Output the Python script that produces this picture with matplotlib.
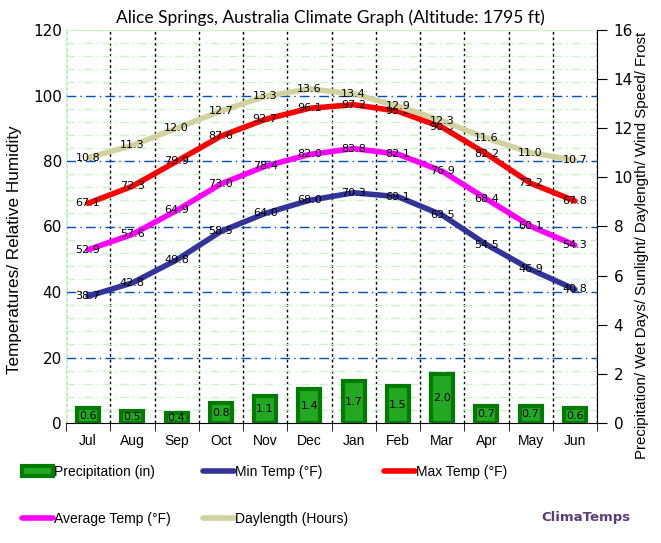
import matplotlib
matplotlib.use('Agg')
import matplotlib.pyplot as plt
import numpy as np

# climate data, Alice Springs
months=['Jul','Aug','Sep','Oct','Nov','Dec','Jan','Feb','Mar','Apr','May','Jun']
precip=[0.6,0.5,0.4,0.8,1.1,1.4,1.7,1.5,2.0,0.7,0.7,0.6]
min_temp=[38.7,42.8,49.8,58.5,64.0,68.0,70.3,69.1,63.5,54.5,46.9,40.8]
max_temp=[67.1,72.3,79.9,87.6,92.7,96.1,97.2,95.2,90.3,82.2,73.2,67.8]
avg_temp=[52.9,57.6,64.9,73.0,78.4,82.0,83.8,82.1,76.9,68.4,60.1,54.3]
daylen=[10.8,11.3,12.0,12.7,13.3,13.6,13.4,12.9,12.3,11.6,11.0,10.7]

left_ticks=[0,20,40,60,80,100,120]
right_ticks=[0,2,4,6,8,10,12,14,16]

FONT='Liberation Sans'

def _labels(ax,x,vals,ys=None,fs=8):
	if ys==None:ys=vals
	for xi,v,yy in zip(x,vals,ys):
		ax.text(xi,yy,'%.1f'%v,ha='center',va='center',fontsize=fs,
			color='black',family='DejaVu Sans',zorder=10)

fig=plt.figure(figsize=(6.61,5.43),dpi=100)
ax=fig.add_axes([66/661,1-423/543,531/661,393/543])
ax2=ax.twinx()
x=np.arange(len(months))

ax.set_xlim(-0.5,len(months)-0.5)
ax.set_ylim(0,120)
ax2.set_ylim(0,16)

# grid
ax.set_yticks(left_ticks)
ax.set_yticks([v for v in range(0,121,4) if v%20!=0],minor=True)
ax.grid(True,which='minor',axis='y',color='#c4f7c4',linestyle=(0,(6,3,1,3)),lw=1)
ax.grid(True,which='major',axis='y',color='#0050c8',linestyle=(0,(7,3,1,3)),lw=1)
ax.get_ygridlines()[-1].set_visible(False)
ax.get_ygridlines()[0].set_visible(False)
ax.set_xticks(x)
ax.set_xticks(np.arange(-0.5,len(months),1.0),minor=True)
ax.grid(True,which='minor',axis='x',color='black',linestyle=(0,(2,2)),lw=1)
ax.set_xticklabels(months,fontsize=10,family=FONT)
ax.tick_params(axis='x',which='major',length=0,pad=8)
ax.tick_params(axis='x',which='minor',length=6,color='black',direction='out')
ax.tick_params(axis='y',which='both',length=0,pad=3,labelsize=11)
for t in ax.get_yticklabels():t.set_family('DejaVu Sans')
ax.set_axisbelow(True)

ax.spines['left'].set_color('#c4f7c4')
ax.spines['top'].set_color('#c4f7c4')
ax.spines['right'].set_visible(False)
ax2.spines['left'].set_visible(False)
ax2.spines['top'].set_visible(False)
ax2.spines['bottom'].set_visible(False)
ax2.spines['right'].set_color('black')
ax2.set_yticks(right_ticks)
ax2.tick_params(axis='y',length=7,direction='out',labelsize=11,pad=5)
for t in ax2.get_yticklabels():t.set_family('DejaVu Sans')

ax.set_ylabel('Temperatures/ Relative Humidity',fontsize=12.3,family=FONT)
ax.yaxis.set_label_coords(-44/531,(423-250)/393)
ax2.set_ylabel('Precipitation/ Wet Days/ Sunlight/ Daylength/ Wind Speed/ Frost',
	fontsize=10.8,family=FONT)
ax2.yaxis.set_label_coords(1+38/531,(423-245)/393)

# bars + lines
bars=ax2.bar(x,precip,width=0.5,color='#22a822',edgecolor='#007a00',lw=3,zorder=2,
	label='Precipitation (in)')
_labels(ax2,x,precip,[p/2.0 for p in precip])
lmin,=ax.plot(x,min_temp,color='#333399',lw=4,solid_capstyle='round',zorder=5,label='Min Temp (°F)')
lmax,=ax.plot(x,max_temp,color='#ff0000',lw=4,solid_capstyle='round',zorder=5,label='Max Temp (°F)')
lavg,=ax.plot(x,avg_temp,color='#ff00ff',lw=4,solid_capstyle='round',zorder=5,label='Average Temp (°F)')
lday,=ax2.plot(x,daylen,color='#d2d2a0',lw=4,solid_capstyle='round',zorder=4,label='Daylength (Hours)')
_labels(ax,x,min_temp)
_labels(ax,x,max_temp)
_labels(ax,x,avg_temp)
_labels(ax2,x,daylen)

fig.suptitle('Alice Springs, Australia Climate Graph (Altitude: 1795 ft)',
	fontsize=12.5,family='Lato',y=0.982)

# legend, three columns placed by hand
cols=[[bars,lavg],[lmin,lday],[lmax]]
xpos=[22/661,203/661,384/661]
for hs,xp in zip(cols,xpos):
	fig.legend(hs,[h.get_label() for h in hs],loc='upper left',bbox_to_anchor=(xp,1-465/543),
		frameon=False,prop={'family':FONT,'size':10},handlelength=2.2,handletextpad=0.1,
		labelspacing=2.4,borderaxespad=0,borderpad=0)

fig.text(586/661,1-517/543,'ClimaTemps',fontsize=9.5,fontweight='bold',color='#5a3d7a',
	ha='center',va='center',family='DejaVu Sans')

fig.savefig('out.png',dpi=100)
